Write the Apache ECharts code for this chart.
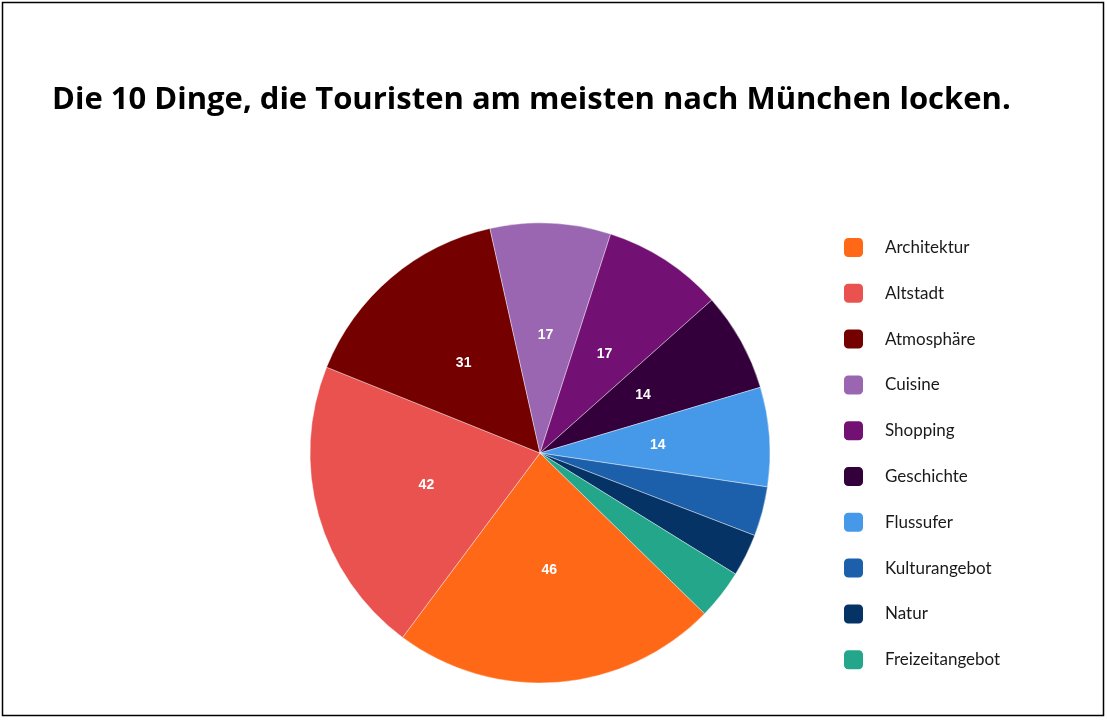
<!DOCTYPE html>
<html>
<head>
<meta charset="utf-8">
<script src="https://cdn.jsdelivr.net/npm/echarts@6/dist/echarts.min.js"></script>
<style>
html,body{margin:0;padding:0;background:#fff;}
#c{width:1107px;height:720px;}
</style>
</head>
<body>
<div id="c"></div>
<script>
const categories = ['Architektur','Altstadt','Atmosphäre','Cuisine','Shopping','Geschichte','Flussufer','Kulturangebot','Natur','Freizeitangebot'];
const values = [46, 42, 31, 17, 17, 14, 14, 7, 6, 7];
const colors = ['#FF6816','#EA5250','#740000','#9A66B2','#721074','#34003B','#4599E8','#1C5FAA','#053366','#24A68A'];
const titleText = 'Die 10 Dinge, die Touristen am meisten nach München locken.';

const chart = echarts.init(document.getElementById('c'), null, {renderer:'canvas'});
chart.setOption({
  backgroundColor: '#fff',
  animation: false,
  title: {
    text: titleText,
    left: 47,
    top: 80,
    textStyle: { fontFamily: 'Open Sans', fontWeight: 'bold', fontSize: 31, color: '#000' }
  },
  legend: {
    orient: 'vertical',
    left: 837,
    top: 231,
    itemWidth: 21,
    itemHeight: 21,
    itemGap: 22.8,
    icon: 'roundRect',
    data: categories,
    textStyle: { fontFamily: 'Lato', fontSize: 17, lineHeight: 21, color: '#1a1a1a', padding: [0,0,0,16] }
  },
  graphic: [{
    type: 'rect',
    shape: { x: 2.5, y: 2.5, width: 1101, height: 713 },
    style: { fill: 'none', stroke: '#000', lineWidth: 1.5 },
    silent: true
  }],
  series: [{
    type: 'pie',
    center: [540, 453],
    radius: 230,
    startAngle: -44.3,
    clockwise: true,
    avoidLabelOverlap: false,
    itemStyle: { borderColor: '#ffffff', borderWidth: 0.4 },
    label: {
      show: true,
      position: 'inside',
      color: '#fff',
      fontFamily: 'Liberation Sans',
      fontWeight: 'bold',
      fontSize: 14,
      formatter: p => (p.value >= 10 ? String(p.value) : '')
    },
    labelLine: { show: false },
    emphasis: { disabled: true },
    data: categories.map((n, i) => ({ name: n, value: values[i], itemStyle: { color: colors[i] } }))
  }]
});
</script>
</body>
</html>
